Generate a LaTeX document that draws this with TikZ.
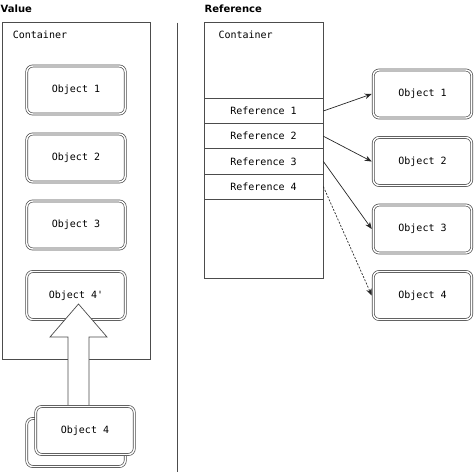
\documentclass[tikz,border=0pt]{standalone}
\usepackage{fontspec}
\setmonofont{DejaVu Sans Mono}
\newfontfamily\headfont{DejaVu Sans}
\usetikzlibrary{arrows.meta}
\begin{document}
\begin{tikzpicture}[x=1pt,y=-1pt,
  lc/.style={draw=black!70, line width=0.8pt},
  box/.style={draw=black!70, line width=0.8pt, inner sep=0pt, fill=white},
  obj/.style={draw=black!70, line width=0.7pt, double=white, double distance=1.4pt,
    rounded corners=6pt, minimum width=98.5pt, minimum height=48pt, inner sep=0pt,
    outer sep=1.5pt, fill=white, font=\ttfamily\fontsize{10}{12}\selectfont},
  rowbox/.style={draw=black!70, line width=0.7pt, minimum width=119pt, minimum height=25.2pt,
    inner sep=0pt, font=\ttfamily\fontsize{10}{12}\selectfont},
  lbl/.style={inner sep=0pt, anchor=base west, font=\ttfamily\fontsize{10}{12}\selectfont},
  head/.style={inner sep=0pt, anchor=base west, font=\headfont\bfseries\fontsize{10}{12}\selectfont},
  conn/.style={draw=black!85, line width=0.7pt, -{Stealth[length=7pt,width=5.5pt]}},
]
\useasboundingbox (0,0) rectangle (474,474);
% headings
\node[head] (hv) at (0.5,12.7) {Value};
\node[head] (hr) at (204.5,12.7) {Reference};
% left container
\node[box, minimum width=148pt, minimum height=336.5pt] (lcont) at (76,190.8) {};
\node[lbl] (lclbl) at (12.7,38.8) {Container};
\node[obj] (a1) at (76,90) {Object 1};
\node[obj] (a2) at (76,158) {Object 2};
\node[obj] (a3) at (76,225) {Object 3};
\node[obj] (a4) at (76,295.5) {Object 4'};
% divider
\coordinate (dtop) at (177,22.5);
\coordinate (dbot) at (177,472);
\draw[lc] (dtop) -- (dbot);
% right container
\node[box, minimum width=119pt, minimum height=255.4pt] (rcont) at (263.5,150.4) {};
\node[lbl] (rclbl) at (218.3,38.5) {Container};
\node[rowbox] (r1) at (263.5,111) {Reference 1};
\node[rowbox] (r2) at (263.5,136.2) {Reference 2};
\node[rowbox] (r3) at (263.5,161.4) {Reference 3};
\node[rowbox] (r4) at (263.5,186.6) {Reference 4};
% right objects
\node[obj] (b1) at (422.5,94) {Object 1};
\node[obj] (b2) at (422.5,161.5) {Object 2};
\node[obj] (b3) at (422.5,229) {Object 3};
\node[obj] (b4) at (422.5,295.5) {Object 4};
\draw[conn] (r1.east) -- (b1.west);
\draw[conn] (r2.east) -- (b2.west);
\draw[conn] (r3.east) -- (b3.west);
\draw[conn, dash pattern=on 2pt off 1.5pt] (r4.east) -- (b4.west);
% big hollow arrow
\coordinate (tip) at (78.5,304);
\draw[lc, fill=white, line width=0.7pt] (tip) -- (107,337) -- (89,337) -- (89,405.5) -- (68,405.5) -- (68,337) -- (50,337) -- cycle;
% object 4 (stack)
\node[obj] (c4b) at (76,442.5) {};
\node[obj] (c4) at (85,430.5) {Object 4};
\end{tikzpicture}
\end{document}
